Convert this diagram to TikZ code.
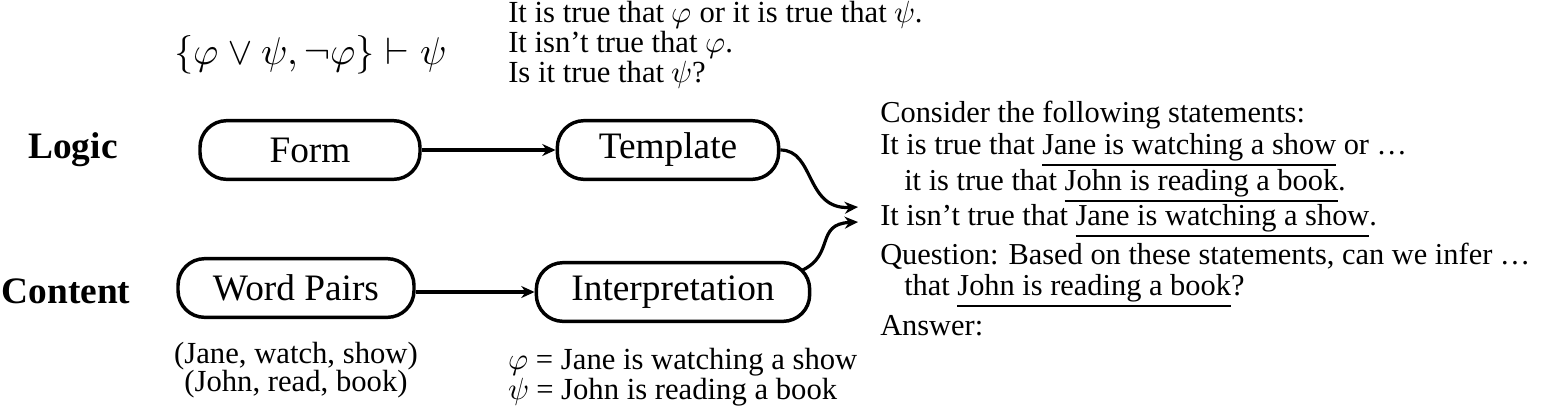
\documentclass[tikz,border=0pt]{standalone}
\usepackage{fontspec}
\setmainfont{Liberation Serif}
\usepackage{amsmath,amssymb}
\usepackage{unicode-math}
\setmathfont{Latin Modern Math}
\usetikzlibrary{arrows.meta}
\begin{document}
\begin{tikzpicture}[x=0.75pt,y=-0.75pt,
 box/.style={draw,line width=2.6pt,rounded corners=20pt,minimum height=44pt,font=\fontsize{28}{30}\selectfont},
 txt/.style={font=\fontsize{23}{26}\selectfont,inner sep=0pt},
 rtxt/.style={font=\fontsize{22.8}{26}\selectfont,inner sep=0pt,anchor=west},
 lab/.style={font=\fontsize{28}{30}\selectfont\bfseries},
 arr/.style={line width=2.4pt,-{Stealth[length=10pt,width=9pt]}}]
\useasboundingbox (0,0) rectangle (1547,412);
\node[box,minimum width=165pt] (form) at (310,150) {Form};
\node[box,minimum width=166pt] (tmpl) at (668,150) {Template};
\node[box,minimum width=177pt] (wp) at (296,288) {Word Pairs};
\node[box,minimum width=205pt] (interp) at (673,292) {Interpretation};
\node[lab] (logic) at (73,150) {Logic};
\node[lab] (content) at (66,291) {Content};
\node[font=\fontsize{29}{32}\selectfont] (formula) at (310,55) {$\{\varphi\vee\psi,\neg\varphi\}\vdash\psi$};
\node[txt,anchor=west] (t1) at (508,15) {It is true that $\varphi$ or it is true that $\psi$.};
\node[txt,anchor=west] (t2) at (508,45) {It isn’t true that $\varphi$.};
\node[txt,anchor=west] (t3) at (508,75) {Is it true that $\psi$?};
\node[txt] (p1) at (296,356) {(Jane, watch, show)};
\node[txt] (p2) at (296,384) {(John, read, book)};
\node[txt,anchor=west] (i1) at (508,362) {$\varphi$ = Jane is watching a show};
\node[txt,anchor=west] (i2) at (508,392) {$\psi$ = John is reading a book};
\node[rtxt] (r1) at (880,115) {Consider the following statements:};
\node[rtxt] (r2) at (880,150) {It is true that \underline{Jane is watching a show} or \dots};
\node[rtxt] (r3) at (904,186) {it is true that \underline{John is reading a book}.};
\node[rtxt] (r4) at (880,221) {It isn’t true that \underline{Jane is watching a show}.};
\node[rtxt] (r5) at (880,256) {Question: Based on these statements, can we infer \dots};
\node[rtxt] (r6) at (904,291) {that \underline{John is reading a book}?};
\node[rtxt] (r7) at (880,326) {Answer:};
\coordinate (e1) at (858,207);
\coordinate (e2) at (858,222);
\draw[arr] (form.east) -- (tmpl.west);
\draw[arr] (wp.east |- interp.west) -- (interp.west);
\draw[arr] (tmpl.east) .. controls (815,150) and (805,210) .. (e1);
\draw[arr] ([xshift=-7pt,yshift=-7pt]interp.north east) .. controls (835,255) and (815,224) .. (e2);
\end{tikzpicture}
\end{document}
